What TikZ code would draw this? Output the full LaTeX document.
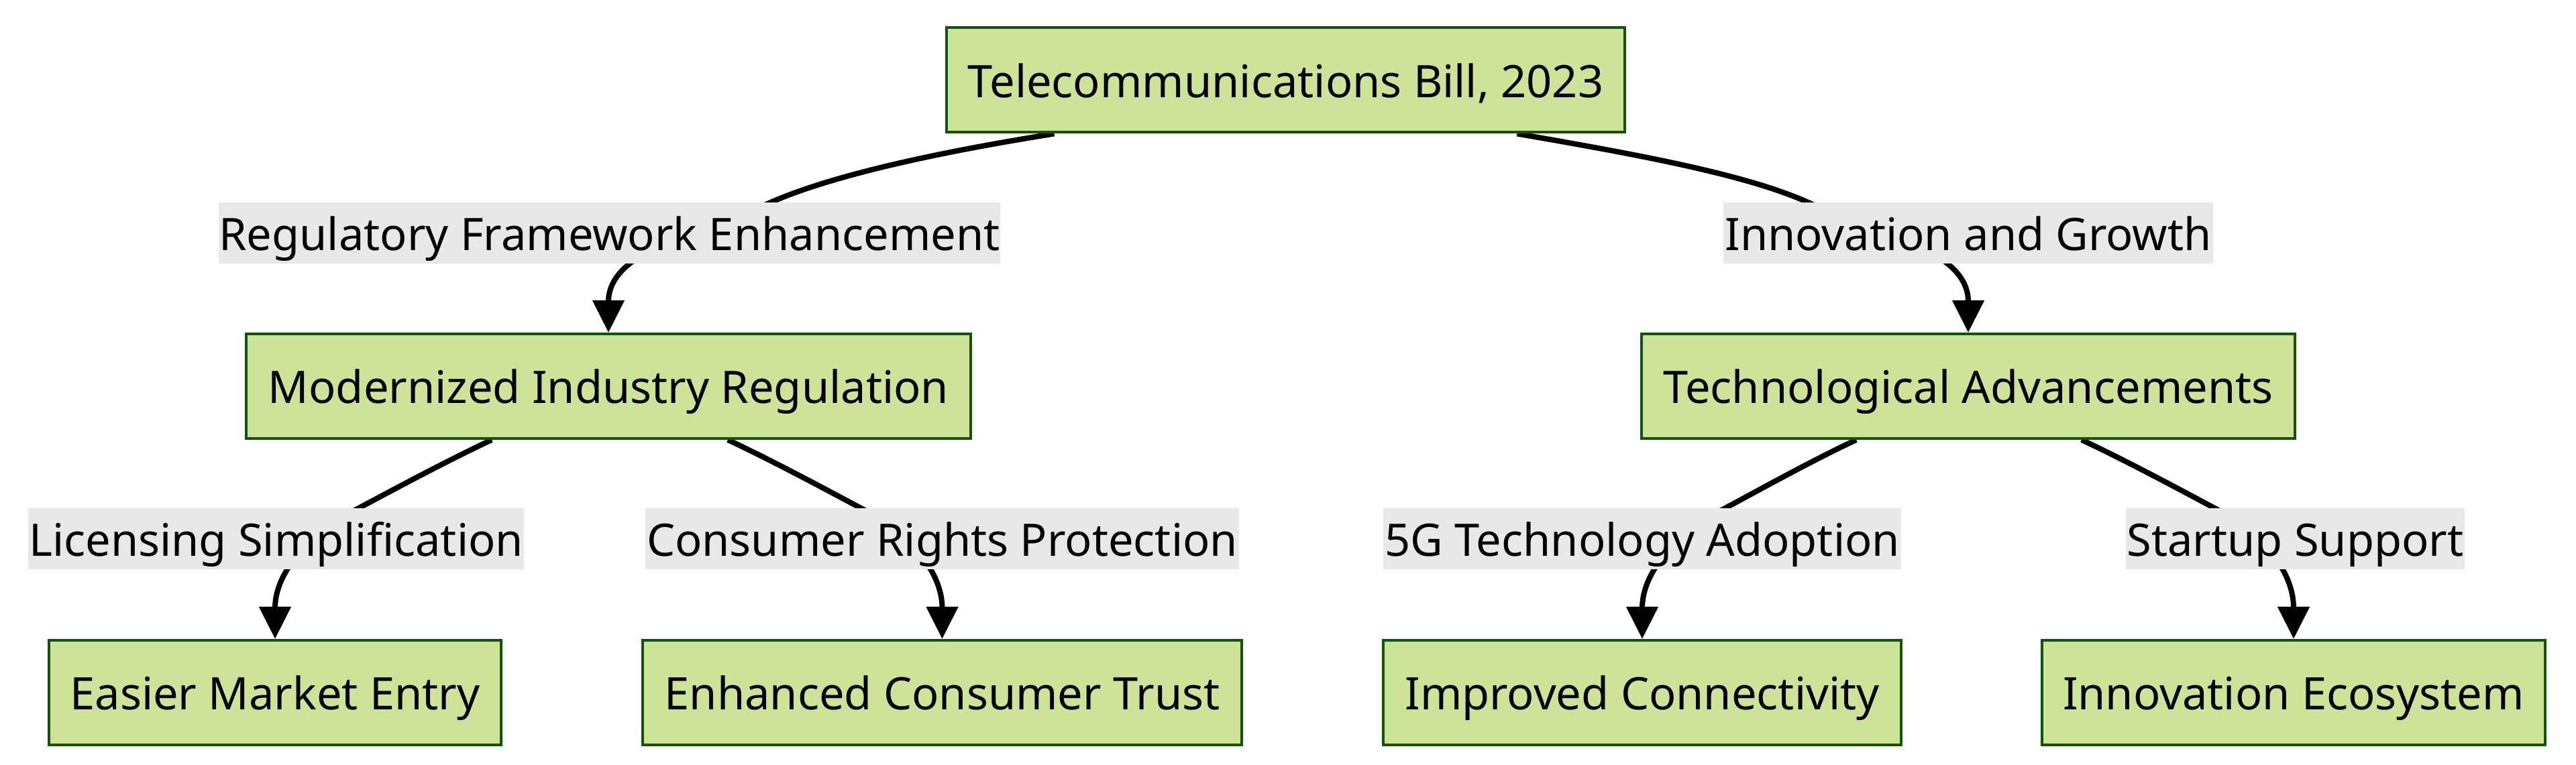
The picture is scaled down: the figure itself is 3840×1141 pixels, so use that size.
\documentclass[tikz,border=0pt]{standalone}
\usepackage{fontspec}
\setmainfont{Noto Sans}
\usetikzlibrary{arrows.meta,calc,backgrounds}
\definecolor{nodefill}{HTML}{CDE498}
\definecolor{nodeborder}{HTML}{13540C}
\definecolor{lblfill}{HTML}{E8E8E8}
\tikzset{
  txt/.style={font=\fontsize{16.7pt}{20pt}\selectfont, text=black, text height=16.7pt, text depth=3.8pt},
  box/.style={txt, draw=nodeborder, fill=nodefill, line width=1pt, inner sep=0pt, minimum height=39pt},
  lbl/.style={txt, fill=lblfill, inner sep=0pt, minimum height=22.75pt},
  link/.style={line width=2pt, draw=black, -{Triangle[length=12pt,width=11.5pt]}},
}
\begin{document}
\begin{tikzpicture}[x=0.25pt,y=-0.25pt]
\useasboundingbox (0,0) rectangle (3840,1141);
% nodes
\node[box, minimum width=252.75pt] (top) at (1916.5,119.5) {Telecommunications Bill, 2023};
\node[box, minimum width=270pt] (mL) at (907,576) {Modernized Industry Regulation};
\node[box, minimum width=243.5pt] (mR) at (2934,576) {Technological Advancements};
\node[box, minimum width=168.5pt] (e1) at (410,1033) {Easier Market Entry};
\node[box, minimum width=223.25pt] (e2) at (1404.5,1033) {Enhanced Consumer Trust};
\node[box, minimum width=193pt] (e3) at (2448,1033) {Improved Connectivity};
\node[box, minimum width=187.5pt] (e4) at (3419,1033) {Innovation Ecosystem};
% edge labels
\node[lbl, minimum width=291.25pt] (l1) at (908.5,347.5) {Regulatory Framework Enhancement};
\node[lbl, minimum width=182.5pt] (l2) at (2934,347.5) {Innovation and Growth};
\node[lbl, minimum width=184.75pt] (l3) at (411.5,804) {Licensing Simplification};
\node[lbl, minimum width=221.25pt] (l4) at (1404.5,804) {Consumer Rights Protection};
\node[lbl, minimum width=193pt] (l5) at (2448,804) {5G Technology Adoption};
\node[lbl, minimum width=126.25pt] (l6) at (3421.5,804) {Startup Support};
% edges
\begin{pgfonlayer}{background}
\draw[link] ($(top.south)+(-345,0)$) .. controls (1380,230) and (1230,265) .. (1144,304)
  .. controls (1058,343) and (907,370) .. (mL.north);
\draw[link] ($(top.south)+(345,0)$) .. controls (2450,232) and (2610,262) .. (2700,304)
  .. controls (2790,346) and (2934,370) .. (mR.north);
\draw[link] ($(mL.south)+(-174,0)$) .. controls (663,689) and (587,730) .. (527,762)
  .. controls (467,794) and (410,850) .. (e1.north);
\draw[link] ($(mL.south)+(178,0)$) .. controls (1155,689) and (1231,730) .. (1291,762)
  .. controls (1351,794) and (1404.5,850) .. (e2.north);
\draw[link] ($(mR.south)+(-167,0)$) .. controls (2697,689) and (2624,730) .. (2564,762)
  .. controls (2504,794) and (2448,850) .. (e3.north);
\draw[link] ($(mR.south)+(169,0)$) .. controls (3173,689) and (3249,730) .. (3309,762)
  .. controls (3369,794) and (3419,850) .. (e4.north);
\end{pgfonlayer}
\end{tikzpicture}
\end{document}
